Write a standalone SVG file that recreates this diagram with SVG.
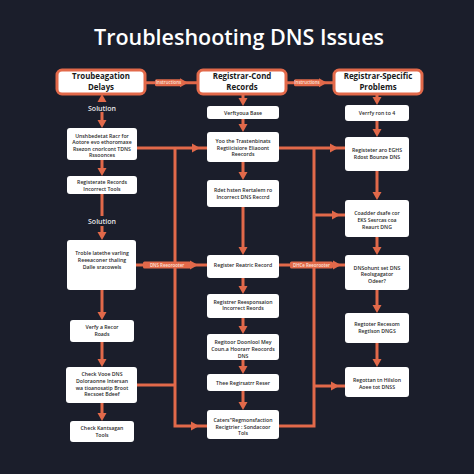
<svg xmlns="http://www.w3.org/2000/svg" xmlns:xlink="http://www.w3.org/1999/xlink" width="474" height="474" viewBox="0 0 474 474">
<style>
.bg{fill:#1b1e2b}
.title{font-family:"Open Sans","Liberation Sans",sans-serif;font-weight:600;font-size:21.5px;fill:#ffffff;text-anchor:middle}
.hdr rect{fill:#ffffff;stroke:#e2694a;stroke-width:3}
.hdr text{font-family:"Open Sans","Liberation Sans",sans-serif;font-weight:700;font-size:7.9px;fill:#1a1a1a;text-anchor:middle}
.box rect{fill:#ffffff}
.box text{font-family:"Open Sans","Liberation Sans",sans-serif;font-weight:600;font-size:5.2px;fill:#2a2a2a;text-anchor:middle}
.ln{stroke:#e2694a;stroke-width:3;fill:none}
.ah{fill:#e2694a}
.pill{fill:#e2694a}
.pt{font-family:"Open Sans","Liberation Sans",sans-serif;font-weight:600;font-size:4.4px;fill:#fde3da;text-anchor:middle}
.sol{font-family:"Open Sans","Liberation Sans",sans-serif;font-weight:600;font-size:7px;fill:#e8e8ea;text-anchor:middle}
</style>
<defs>
<path id="ah" d="M-4.5,-4 L4.5,-4 L0,4 Z"/>
</defs>
<rect class="bg" x="0" y="0" width="474" height="474"/>
<text class="title" x="239" y="45">Troubleshooting DNS Issues</text>

<g id="connectors">
<!-- header to header -->
<path class="ln" d="M145,82.7 H198"/>
<path class="ln" d="M286,82.7 H334"/>
<use href="#ah" class="ah" transform="translate(184,82.7) rotate(-90)"/>
<use href="#ah" class="ah" transform="translate(323,82.7) rotate(-90)"/>
<rect class="pill" x="155" y="79.3" width="27" height="7" rx="1.5"/>
<text class="pt" x="168.5" y="84.4">Instructions</text>
<rect class="pill" x="294" y="79.3" width="26" height="7" rx="1.5"/>
<text class="pt" x="307" y="84.4">Instructions</text>

<!-- column 1 verticals -->
<path class="ln" d="M102,98 V124"/>
<use href="#ah" class="ah" transform="translate(102,98) rotate(180)"/>
<use href="#ah" class="ah" transform="translate(102,124)"/>
<rect class="bg" x="84" y="102" width="36" height="10"/>
<text class="sol" x="102" y="110.5">Solution</text>
<path class="ln" d="M102,160 V172"/>
<use href="#ah" class="ah" transform="translate(102,172)"/>
<path class="ln" d="M102,194 V236"/>
<use href="#ah" class="ah" transform="translate(102,236)"/>
<rect class="bg" x="84" y="216" width="36" height="10"/>
<text class="sol" x="102" y="224">Solution</text>
<path class="ln" d="M102,290 V316"/>
<use href="#ah" class="ah" transform="translate(102,316)"/>
<path class="ln" d="M102,342 V363"/>
<use href="#ah" class="ah" transform="translate(102,363)"/>
<path class="ln" d="M102,403 V417"/>
<use href="#ah" class="ah" transform="translate(102,417)"/>

<!-- column 2 verticals -->
<path class="ln" d="M243,93 V102"/>
<use href="#ah" class="ah" transform="translate(243,102)"/>
<path class="ln" d="M243,119 V128"/>
<use href="#ah" class="ah" transform="translate(243,128)"/>
<path class="ln" d="M243,162 V176"/>
<use href="#ah" class="ah" transform="translate(243,176)"/>
<path class="ln" d="M243,207 V251"/>
<use href="#ah" class="ah" transform="translate(243,251)"/>
<path class="ln" d="M243,278 V290"/>
<use href="#ah" class="ah" transform="translate(243,290)"/>
<path class="ln" d="M243,318 V330"/>
<use href="#ah" class="ah" transform="translate(243,330)"/>
<path class="ln" d="M243,360 V370"/>
<use href="#ah" class="ah" transform="translate(243,370)"/>
<path class="ln" d="M243,391 V406"/>
<use href="#ah" class="ah" transform="translate(243,406)"/>

<!-- column 3 verticals -->
<path class="ln" d="M377,94 V101"/>
<use href="#ah" class="ah" transform="translate(377,101)"/>
<path class="ln" d="M377,121 V133"/>
<use href="#ah" class="ah" transform="translate(377,133)"/>
<path class="ln" d="M377,171 V196"/>
<use href="#ah" class="ah" transform="translate(377,196)"/>
<path class="ln" d="M377,237 V251"/>
<use href="#ah" class="ah" transform="translate(377,251)"/>
<path class="ln" d="M377,290 V309"/>
<use href="#ah" class="ah" transform="translate(377,309)"/>
<path class="ln" d="M377,343 V363"/>
<use href="#ah" class="ah" transform="translate(377,363)"/>

<!-- left trunk -->
<path class="ln" d="M137,148 H207"/>
<use href="#ah" class="ah" transform="translate(196,148) rotate(-90)"/>
<path class="ln" d="M175,148 V426 H207"/>
<use href="#ah" class="ah" transform="translate(195,426) rotate(-90)"/>
<path class="ln" d="M137,385 H175"/>
<path class="ln" d="M136,265 H207"/>
<use href="#ah" class="ah" transform="translate(194,265) rotate(-90)"/>
<rect class="pill" x="143" y="261.5" width="48" height="7" rx="1.5"/>
<text class="pt" x="167" y="266.6">DNS Reeorooter</text>

<!-- right trunk -->
<path class="ln" d="M279,148 H345"/>
<use href="#ah" class="ah" transform="translate(334,148) rotate(-90)"/>
<path class="ln" d="M314,148 V426 H279"/>
<path class="ln" d="M314,215 H345"/>
<use href="#ah" class="ah" transform="translate(336,215) rotate(-90)"/>
<path class="ln" d="M314,386 H345"/>
<use href="#ah" class="ah" transform="translate(335,386) rotate(-90)"/>
<path class="ln" d="M279,265 H345"/>
<use href="#ah" class="ah" transform="translate(337,265) rotate(-90)"/>
<rect class="pill" x="290" y="261.5" width="43" height="7" rx="1.5"/>
<text class="pt" x="311.5" y="266.6">DHCe Reeorooter</text>
</g>

<!-- headers -->
<g id="h1" class="hdr"><rect x="57" y="70" width="88" height="24" rx="5"/><text x="101" y="79">Troubeagation</text><text x="101" y="89.5">Delays</text></g>
<g id="h2" class="hdr"><rect x="198" y="70" width="88" height="24" rx="5"/><text x="242" y="79">Registrar-Cond</text><text x="242" y="89.5">Records</text></g>
<g id="h3" class="hdr"><rect x="334" y="70" width="88" height="24" rx="5"/><text x="378" y="79">Registrar-Specific</text><text x="378" y="89.5">Problems</text></g>

<!-- column 1 -->
<g id="c1b1" class="box"><rect x="67" y="128" width="70" height="32" rx="3"/>
<text x="102" y="137.5">Unshbedetat Racr for</text><text x="102" y="144">Aotore evo ethoromaxe</text><text x="102" y="150.5">Rsezon cnorlcont TDNS</text><text x="102" y="157">Rssoonces</text></g>
<g id="c1b2" class="box"><rect x="67" y="176" width="70" height="18" rx="3"/>
<text x="102" y="184">Registerate Records</text><text x="102" y="190.5">Incorrect Tools</text></g>
<g id="c1b3" class="box"><rect x="67" y="240" width="69" height="50" rx="3"/>
<text x="102" y="254.5">Troble latethe varling</text><text x="102" y="261.8">Reeeaconer thaling</text><text x="102" y="269">Dalle sracowels</text></g>
<g id="c1b4" class="box"><rect x="70" y="320" width="64" height="22" rx="3"/>
<text x="102" y="329">Verfy a Recor</text><text x="102" y="336">Roads</text></g>
<g id="c1b5" class="box"><rect x="66" y="367" width="71" height="36" rx="3"/>
<text x="102" y="376">Check Vooe DNS</text><text x="102" y="382.8">Doloraonne Intersan</text><text x="102" y="389.6">wa tioanosatip Broot</text><text x="102" y="396.4">Recsoet Bdeef</text></g>
<g id="c1b6" class="box"><rect x="70" y="421" width="64" height="21" rx="3"/>
<text x="102" y="430">Check Kantsagan</text><text x="102" y="436.8">Tools</text></g>

<!-- column 2 -->
<g id="c2b1" class="box"><rect x="207" y="106" width="72" height="13" rx="3"/>
<text x="243" y="114.5">Verftyoua Base</text></g>
<g id="c2b2" class="box"><rect x="207" y="132" width="72" height="30" rx="3"/>
<text x="243" y="142.8">Yoo the Trastenbinats</text><text x="243" y="149.5">Regtiicisiore Eliaoont</text><text x="243" y="156.2">Reecords</text></g>
<g id="c2b3" class="box"><rect x="207" y="180" width="72" height="27" rx="3"/>
<text x="243" y="191.8">Rdet hsten Rertalem ro</text><text x="243" y="199">Incorrect DNS Reccrd</text></g>
<g id="c2b4" class="box"><rect x="207" y="255" width="72" height="23" rx="3"/>
<text x="243" y="266.8">Register Reatric Record</text></g>
<g id="c2b5" class="box"><rect x="207" y="294" width="72" height="24" rx="3"/>
<text x="243" y="303.5">Registrer Reesponsaion</text><text x="243" y="310.3">Incorrect Reords</text></g>
<g id="c2b6" class="box"><rect x="207" y="334" width="72" height="26" rx="3"/>
<text x="243" y="344">Regitoor Doonlool Mey</text><text x="243" y="350.8">Coun.a Hoorarr Reocords</text><text x="243" y="357.6">DNS</text></g>
<g id="c2b7" class="box"><rect x="207" y="374" width="72" height="17" rx="3"/>
<text x="243" y="385">Thee Regirsatrr Reser</text></g>
<g id="c2b8" class="box"><rect x="207" y="410" width="72" height="29" rx="3"/>
<text x="243" y="421.8">Caters"Regmonsfaction</text><text x="243" y="428.6">Recigtrier : Sondacoor</text><text x="243" y="435.4">Tols</text></g>

<!-- column 3 -->
<g id="c3b1" class="box"><rect x="345" y="105" width="64" height="16" rx="3"/>
<text x="377" y="115">Verrfy ron to 4</text></g>
<g id="c3b2" class="box"><rect x="345" y="137" width="64" height="34" rx="3"/>
<text x="377" y="151.8">Registeter aro EGHS</text><text x="377" y="158.6">Rdost Bounze DNS</text></g>
<g id="c3b3" class="box"><rect x="345" y="200" width="64" height="37" rx="3"/>
<text x="377" y="215">Coadder dsafe cor</text><text x="377" y="221.8">EKS Sesrcas coa</text><text x="377" y="228.6">Reaurt DNG</text></g>
<g id="c3b4" class="box"><rect x="345" y="255" width="64" height="35" rx="3"/>
<text x="377" y="269.5">DNSohunt set DNS</text><text x="377" y="276.3">Reolsgagator</text><text x="377" y="283.4">Odeer?</text></g>
<g id="c3b5" class="box"><rect x="345" y="313" width="64" height="30" rx="3"/>
<text x="377" y="326">Regtoter Recesom</text><text x="377" y="332.8">Regtlson DNGS</text></g>
<g id="c3b6" class="box"><rect x="345" y="367" width="64" height="30" rx="3"/>
<text x="377" y="382.2">Regottan tn Hilslon</text><text x="377" y="389.2">Aoee tot DNSS</text></g>
</svg>
